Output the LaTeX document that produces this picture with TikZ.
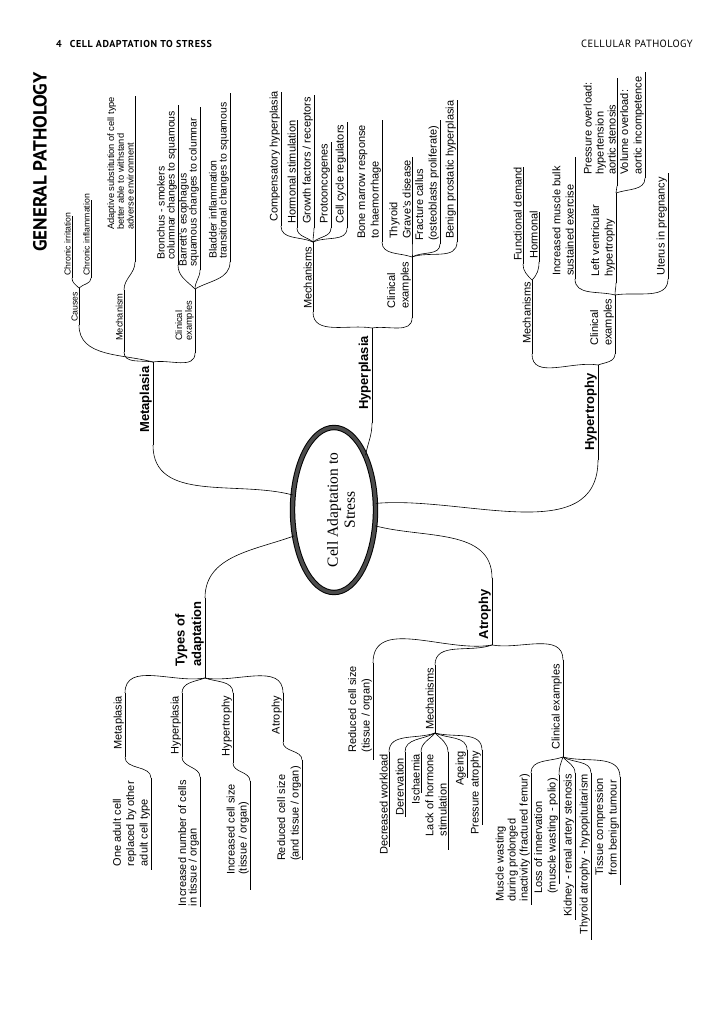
\documentclass[tikz,border=0pt]{standalone}
\usepackage{fontspec}
\setmainfont{Liberation Sans}
\newfontfamily\hdr{PT Sans}
\newfontfamily\hdrL[LetterSpace=6]{PT Sans}
\newfontfamily\hdrR[LetterSpace=4]{PT Sans}
\newfontfamily\serifc{Liberation Serif}
\usetikzlibrary{shapes.geometric}
\tikzset{
 lbl/.style={rotate=90, inner sep=1pt, align=left, text=black, font=\fontsize{11}{13.3}\selectfont},
 lblA/.style={rotate=90, inner sep=1pt, align=left, text=black, font=\fontsize{8.7}{9.5}\selectfont},
 lblB/.style={rotate=90, inner sep=1pt, align=left, text=black, font=\fontsize{9.3}{9.8}\selectfont},
 lblC/.style={rotate=90, inner sep=1pt, align=left, text=black, font=\fontsize{10.5}{10}\selectfont},
 lblD/.style={rotate=90, inner sep=1pt, align=left, text=black, font=\fontsize{11}{10.5}\selectfont},
 lblE/.style={rotate=90, inner sep=1pt, align=left, text=black, font=\fontsize{11}{12}\selectfont},
 mainlbl/.style={rotate=90, inner sep=1pt, align=left, text=black, font=\fontsize{13}{16.5}\selectfont\bfseries},
 uline/.style={line width=0.6pt, black},
 con/.style={line width=0.6pt, black},
}
\newcommand{\mmR}[7]{%
 \coordinate (#2s) at (#3,-#4);
 \coordinate (#2e) at (#3,-#5);
 \draw[uline] (#2s) -- (#2e);
 \node[#1,anchor=south west] (#2) at (#3,-#6) {#7};}
\newcommand{\mmL}[7]{%
 \coordinate (#2s) at (#3,-#4);
 \coordinate (#2e) at (#3,-#5);
 \draw[uline] (#2s) -- (#2e);
 \node[#1,anchor=south east] (#2) at (#3,-#6) {#7};}
\begin{document}
\begin{tikzpicture}[x=1pt,y=1pt]
\useasboundingbox (0,0) rectangle (728,-1021);
\fill[white] (0,0) rectangle (728,-1021);
% headers
\node[anchor=base west, inner sep=0, font=\hdrL\bfseries\fontsize{10}{12}\selectfont] (hl) at (56,-47) {4\hspace{8pt}CELL ADAPTATION TO STRESS};
\node[anchor=base east, inner sep=0, font=\hdrR\fontsize{10.5}{12}\selectfont] (hr) at (693,-47) {CELLULAR PATHOLOGY};
\node[rotate=90, inner sep=0, font=\hdr\bfseries\fontsize{19}{22}\selectfont] (gp) at (40,-162) {GENERAL PATHOLOGY};
% centre
\node[ellipse, draw=black, line width=1pt, double=black!70, double distance=3.4pt, minimum width=83pt, minimum height=165pt, inner sep=0] (ell) at (334,-510) {};
\node[rotate=90, align=center, font=\serifc\fontsize{15.5}{17}\selectfont] (ctext) at (341,-510) {Cell Adaptation to\\Stress};

% ===== Metaplasia =====
\coordinate (mets) at (153,-445); \coordinate (mete) at (153,-362);
\draw[uline] (mets) -- (mete);
\node[mainlbl, anchor=south west] (met) at (153,-434) {Metaplasia};
\draw[con] (ell.160) to[out=165,in=-90] (mets);
\mmR{lblA}{cau}{79}{325}{288}{323}{Causes}
\mmR{lblA}{chi}{72}{278}{216}{277}{Chronic irritation}
\mmR{lblA}{chf}{91}{278}{200}{277}{Chronic inflammation}
\mmR{lblB}{mmech}{124}{352}{290}{342}{Mechanism}
\mmR{lblB}{adap}{135}{262}{96}{231}{Adaptive substitution of cell type\\better able to withstand\\adverse environment}
\mmR{lblB}{mcl}{195}{353}{289}{342}{Clinical\\examples}
\mmR{lblC}{bro}{178}{265}{105}{261}{Bronchus - smokers\\columnar changes to squamous}
\mmR{lblC}{bar}{200}{270}{107}{268}{Barrett's esophagus\\squamous changes to columnar}
\mmR{lblC}{bla}{230}{262}{93}{260}{Bladder inflammation\\transitional changes to squamous}
\draw[con] (mete) to[out=165,in=-90] (caus);
\draw[con] (mete) to[out=170,in=-90] (mmechs);
\draw[con] (mete) to[out=10,in=-90] (mcls);
\draw[con] (caue) to[out=135,in=-90] (chis);
\draw[con] (caue) to[out=45,in=-90] (chfs);
\draw[con] (mmeche) to[out=90,in=-90] (adaps);
\draw[con] (mcle) to[out=135,in=-90] (bros);
\draw[con] (mcle) to[out=90,in=-90] (bars);
\draw[con] (mcle) to[out=30,in=-90] (blas);

% ===== Hyperplasia =====
\coordinate (hyps) at (372,-423); \coordinate (hype) at (372,-328);
\draw[uline] (hyps) -- (hype);
\node[mainlbl, anchor=south west] (hyp) at (372,-411) {Hyperplasia};
\draw[con] (ell.60) to[out=80,in=-90] (hyps);
\mmR{lbl}{hmech}{313}{312}{242}{310}{Mechanisms}
\mmR{lbl}{comp}{281}{226}{92}{223}{Compensatory hyperplasia}
\mmR{lbl}{horm}{297}{228}{120}{225}{Hormonal stimulation}
\mmR{lbl}{grow}{314}{228}{95}{225}{Growth factors / receptors}
\mmR{lbl}{prot}{331}{228}{142}{225}{Protooncogenes}
\mmR{lbl}{ccr}{347}{228}{122}{225}{Cell cycle regulators}
\mmR{lbl}{hcl}{412}{318}{257}{310}{Clinical\\examples}
\mmR{lbl}{bone}{382}{242}{120}{240}{Bone marrow response\\to haemorrhage}
\mmR{lbl}{thy}{412}{242}{157}{240}{Thyroid\\Grave's disease}
\mmR{lbl}{frac}{440}{244}{120}{242}{Fracture callus\\(osteoblasts proliferate)}
\mmR{lbl}{ben}{457}{242}{100}{240}{Benign prostatic hyperplasia}
\draw[con] (hype) to[out=170,in=-90] (hmechs);
\draw[con] (hype) to[out=10,in=-90] (hcls);
\draw[con] (hmeche) to[out=155,in=-90] (comps);
\draw[con] (hmeche) to[out=140,in=-90] (horms);
\draw[con] (hmeche) to[out=90,in=-90] (grows);
\draw[con] (hmeche) to[out=40,in=-90] (prots);
\draw[con] (hmeche) to[out=25,in=-90] (ccrs);
\draw[con] (hcle) to[out=160,in=-90] (bones);
\draw[con] (hcle) to[out=90,in=-90] (thys);
\draw[con] (hcle) to[out=30,in=-90] (fracs);
\draw[con] (hcle) to[out=20,in=-90] (bens);

% ===== Hypertrophy =====
\coordinate (hyts) at (598,-460); \coordinate (hyte) at (598,-365);
\draw[uline] (hyts) -- (hyte);
\node[mainlbl, anchor=south west] (hyt) at (598,-452) {Hypertrophy};
\draw[con] (ell.9) to[out=5,in=-90] (hyts);
\mmR{lbl}{tmech}{532}{354}{280}{345}{Mechanisms}
\mmR{lbl}{fdem}{523}{264}{167}{262}{Functional demand}
\mmR{lbl}{thor}{539}{262}{212}{260}{Hormonal}
\mmR{lbl}{tcl}{615}{354}{295}{347}{Clinical\\examples}
\mmR{lbl}{imb}{575}{279}{157}{277}{Increased muscle bulk\\sustained exercise}
\mmR{lbl}{lvh}{616}{283}{193}{278}{Left ventricular\\hypertrophy}
\mmR{lblE}{pov}{617}{186}{78}{176}{Pressure overload:\\hypertension\\aortic stenosis}
\mmR{lbl}{vov}{645}{178}{72}{176}{Volume overload:\\aortic incompetence}
\mmR{lbl}{ute}{668}{279}{173}{277}{Uterus in pregnancy}
\draw[con] (hyte) to[out=170,in=-90] (tmechs);
\draw[con] (hyte) to[out=20,in=-90] (tcls);
\draw[con] (tmeche) to[out=135,in=-90] (fdems);
\draw[con] (tmeche) to[out=45,in=-90] (thors);
\draw[con] (tcle) to[out=165,in=-90] (imbs);
\draw[con] (tcle) to[out=90,in=-90] (lvhs);
\draw[con] (tcle) to[out=10,in=-90] (utes);
\draw[con] (lvhe) to[out=90,in=-90] (povs);
\draw[con] (lvhe) to[out=20,in=-90] (vovs);

% ===== Types of adaptation =====
\coordinate (typs) at (205,-598); \coordinate (type) at (205,-678);
\draw[uline] (typs) -- (type);
\node[mainlbl, anchor=south east] (typ) at (205,-600) {Types of\\adaptation};
\draw[con] (ell.213) to[out=200,in=90] (typs);
\mmL{lbl}{tmet}{125}{693}{757}{695}{Metaplasia}
\mmL{lbl}{oac}{151}{778}{870}{780}{One adult cell\\replaced by other\\adult cell type}
\mmL{lbl}{thyp}{182}{693}{757}{695}{Hyperplasia}
\mmL{lblD}{inc}{200}{777}{907}{779}{Increased number of cells\\in tissue / organ}
\mmL{lbl}{thyt}{233}{693}{763}{695}{Hypertrophy}
\mmL{lblE}{ics}{250}{781}{890}{783}{Increased cell size\\(tissue / organ)}
\mmL{lbl}{tatr}{283}{693}{742}{695}{Atrophy}
\mmL{lbl}{rcs}{302}{760}{860}{765}{Reduced cell size\\(and tissue / organ)}
\draw[con] (type) to[out=190,in=90] (tmets);
\draw[con] (type) to[out=200,in=90] (thyps);
\draw[con] (type) to[out=-20,in=90] (thyts);
\draw[con] (type) to[out=-10,in=90] (tatrs);
\draw[con] (tmete) to[out=-90,in=90] (oacs);
\draw[con] (thype) to[out=-90,in=90] (incs);
\draw[con] (thyte) to[out=-90,in=90] (icss);
\draw[con] (tatre) to[out=-90,in=90] (rcss);

% ===== Atrophy =====
\coordinate (atrs) at (492,-578); \coordinate (atre) at (492,-645);
\draw[uline] (atrs) -- (atre);
\node[mainlbl, anchor=south east] (atr) at (492,-588) {Atrophy};
\draw[con] (ell.-21) to[out=-15,in=90] (atrs);
\mmL{lbl}{arcs}{373}{663}{760}{665}{Reduced cell size\\(tissue / organ)}
\mmL{lbl}{amech}{435}{665}{733}{667}{Mechanisms}
\mmL{lbl}{dwl}{389}{752}{847}{753}{Decreased workload}
\mmL{lbl}{den}{405}{752}{817}{757}{Derervation}
\mmL{lbl}{isc}{421}{752}{793}{753}{Ischaemia}
\mmL{lbl}{lhs}{448}{752}{850}{753}{Lack of hormone\\stimulation}
\mmL{lbl}{age}{467}{750}{778}{750}{Ageing}
\mmL{lbl}{pat}{482}{750}{825}{750}{Pressure atrophy}
\mmL{lbl}{acl}{563}{660}{757}{663}{Clinical examples}
\mmL{lblE}{mw}{531}{773}{905}{773}{Muscle wasting\\during prolonged\\inactivity (fractured femur)}
\mmL{lbl}{loi}{559}{775}{884}{777}{Loss of innervation\\(muscle wasting - polio)}
\mmL{lbl}{kid}{575}{773}{920}{773}{Kidney - renal artery stenosis}
\mmL{lbl}{tha}{591}{773}{940}{773}{Thyroid atrophy - hypopituitarism}
\mmL{lbl}{tic}{620}{777}{885}{777}{Tissue compression\\from benign tumour}
\draw[con] (atre) to[out=190,in=90] (arcss);
\draw[con] (atre) to[out=200,in=90] (amechs);
\draw[con] (atre) to[out=-10,in=90] (acls);
\draw[con] (ameche) to[out=200,in=90] (dwls);
\draw[con] (ameche) to[out=210,in=90] (dens);
\draw[con] (ameche) to[out=230,in=90] (iscs);
\draw[con] (ameche) to[out=-45,in=90] (lhss);
\draw[con] (ameche) to[out=-25,in=90] (ages);
\draw[con] (ameche) to[out=-15,in=90] (pats);
\draw[con] (acle) to[out=200,in=90] (mws);
\draw[con] (acle) to[out=250,in=90] (lois);
\draw[con] (acle) to[out=-50,in=90] (kids);
\draw[con] (acle) to[out=-30,in=90] (thas);
\draw[con] (acle) to[out=-15,in=90] (tics);
\end{tikzpicture}
\end{document}
